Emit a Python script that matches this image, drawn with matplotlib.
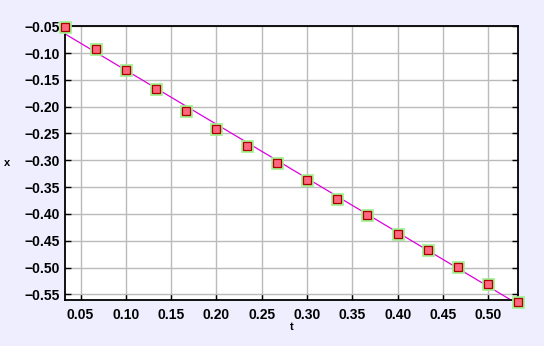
import numpy as np
import matplotlib
matplotlib.use('Agg')
import matplotlib.pyplot as plt

t = [1/30, 2/30, 3/30, 4/30, 5/30, 6/30, 7/30, 8/30,
     9/30, 10/30, 11/30, 12/30, 13/30, 14/30, 15/30, 16/30]
x = [-0.0506, -0.0924, -0.132, -0.167, -0.208, -0.2416, -0.2733, -0.3043,
     -0.3373, -0.372, -0.402, -0.4368, -0.468, -0.4996, -0.5308, -0.5644]
# straight line drawn through the data (values at first and last t)
fit_t = [1/30, 16/30]
fit_x = [-0.0648, -0.569]
xticks = [0.05, 0.10, 0.15, 0.20, 0.25, 0.30, 0.35, 0.40, 0.45, 0.50]
yticks = [-0.05, -0.10, -0.15, -0.20, -0.25, -0.30, -0.35, -0.40, -0.45, -0.50, -0.55]

plt.rcParams['font.family'] = ['Liberation Sans', 'DejaVu Sans']
plt.rcParams['font.weight'] = 'bold'
fig = plt.figure(figsize=(5.44, 3.46), dpi=100, facecolor='#eeeeff')
ax = fig.add_axes([0.1204, 0.1329, 0.8327, 0.792])

ax.plot(fit_t, fit_x, color='#dd00dd', lw=0.9, zorder=2)

# green halo + red square markers
ax.plot(t, x, 's', ms=8.5, color='#a0f090', mec='#a0f090', mew=0.5, zorder=3, clip_on=False)
ax.plot(t, x, 's', ms=5.2, mfc='#ff6680', mec='#aa0000', mew=0.9, zorder=4, clip_on=False)

ax.set_xlim(1/30, 16/30)
ax.set_ylim(-0.5606, -0.0495)
ax.set_xticks(xticks)
ax.set_yticks(yticks)
ax.set_xticklabels(['%.2f' % v for v in xticks])
ax.set_yticklabels(['\u2212%.2f' % -v for v in yticks])
ax.grid(True, color='#bbbbbb', lw=1)
ax.set_axisbelow(True)
ax.tick_params(direction='in', length=4, width=1, labelsize=10, right=True, top=False)
ax.tick_params(axis='x', pad=6)
ax.tick_params(axis='y', pad=4)
for s in ax.spines.values():
    s.set_linewidth(1.3)
ax.set_xlabel('t', fontsize=8, fontweight='bold', labelpad=0)
fig.text(7/544, 1 - 163/346, 'x', fontsize=8, fontweight='bold',
         ha='center', va='center')

fig.savefig('out.png', dpi=100, facecolor=fig.get_facecolor())
